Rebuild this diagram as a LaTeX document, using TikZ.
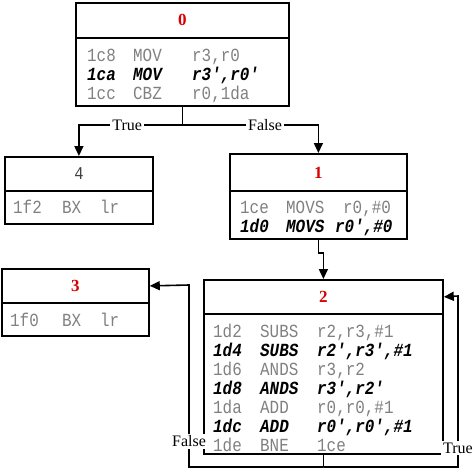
\documentclass[tikz,border=0pt]{standalone}
\usepackage{fontspec}
\setmainfont{Liberation Serif}
\setmonofont[FakeStretch=0.86]{Liberation Mono}
\usetikzlibrary{arrows.meta}

\begin{document}
\begin{tikzpicture}[
        x=1pt, y=-1pt,
        blk/.style={draw, line width=1.8pt, rectangle, inner sep=0pt, anchor=north west},
        hdr/.style={blk, font=\fontsize{17}{18}\selectfont\bfseries, text=red!85!black},
        asm/.style={anchor=base west, inner sep=0pt, font=\fontsize{18.5}{19}\selectfont\ttfamily, text=gray},
        asmb/.style={asm, font=\fontsize{18.5}{19}\selectfont\ttfamily\bfseries\itshape, text=black},
        lbl/.style={fill=white, inner sep=2pt, font=\fontsize{16}{18}\selectfont},
        wire/.style={line width=1.6pt},
        wirearr/.style={wire, -{Triangle[length=10pt,width=9pt]}}
    ]

    \useasboundingbox (0,0) rectangle (474,469);

    % ---------- 基本块 ----------
    % 块 0
    \node[hdr, minimum width=213pt, minimum height=35pt] (b0hdr) at (75,2) {0};
    \node[blk, minimum width=213pt, minimum height=68pt] (b0body) at (75,37) {};
    % 块 4
    \node[blk, minimum width=148pt, minimum height=34pt, font=\fontsize{18}{18}\selectfont\ttfamily, text=darkgray] (b4hdr) at (4,156) {4};
    \node[blk, minimum width=148pt, minimum height=33pt] (b4body) at (4,190) {};
    % 块 1
    \node[hdr, minimum width=177pt, minimum height=37pt] (b1hdr) at (229,153) {1};
    \node[blk, minimum width=177pt, minimum height=48pt] (b1body) at (229,190) {};
    % 块 3
    \node[hdr, minimum width=147pt, minimum height=34pt] (b3hdr) at (1,268) {3};
    \node[blk, minimum width=147pt, minimum height=33pt] (b3body) at (1,302) {};
    % 块 2
    \node[hdr, minimum width=239pt, minimum height=34pt] (b2hdr) at (203,279) {2};
    \node[blk, minimum width=239pt, minimum height=140pt] (b2body) at (203,313) {};

    % ---------- 指令 ----------
    \foreach \ad/\op/\ag/\st [count=\i] in {
        1c8/MOV/{r3,r0}/asm,
        1ca/MOV/{r3',r0'}/asmb,
        1cc/CBZ/{r0,1da}/asm} {
        \node[\st] (b0a\i) at (87, {61+19*(\i-1)}) {\ad};
        \node[\st] (b0o\i) at (133, {61+19*(\i-1)}) {\op};
        \node[\st] (b0g\i) at (192, {61+19*(\i-1)}) {\ag};
    }

    \node[asm] (b4a1) at (13,213) {1f2};
    \node[asm] (b4o1) at (62,213) {BX};
    \node[asm] (b4g1) at (100,213) {lr};

    \node[asm] (b1a1) at (240,213) {1ce};
    \node[asm] (b1o1) at (286,213) {MOVS};
    \node[asm] (b1g1) at (343,213) {r0,\#0};
    \node[asmb] (b1a2) at (240,232) {1d0};
    \node[asmb] (b1o2) at (286,232) {MOVS};
    \node[asmb] (b1g2) at (335,232) {r0',\#0};

    \node[asm] (b3a1) at (10,326) {1f0};
    \node[asm] (b3o1) at (62,326) {BX};
    \node[asm] (b3g1) at (100,326) {lr};

    \foreach \ad/\op/\ag/\st [count=\i] in {
        1d2/SUBS/{r2,r3,\#1}/asm,
        1d4/SUBS/{r2',r3',\#1}/asmb,
        1d6/ANDS/{r3,r2}/asm,
        1d8/ANDS/{r3',r2'}/asmb,
        1da/ADD/{r0,r0,\#1}/asm,
        1dc/ADD/{r0',r0',\#1}/asmb,
        1de/BNE/1ce/asm} {
        \node[\st] (b2a\i) at (213, {337+19.1*(\i-1)}) {\ad};
        \node[\st] (b2o\i) at (260, {337+19.1*(\i-1)}) {\op};
        \node[\st] (b2g\i) at (317, {337+19.1*(\i-1)}) {\ag};
    }

    % ---------- 控制流 ----------
    \coordinate (fork) at (b0body.south |- 0,125);
    \draw[wire] (b0body.south) -- (fork);
    \draw[wirearr] (fork) -| node[lbl, pos=0.267] {True} (b4hdr.north);
    \draw[wirearr] (fork) -| node[lbl, pos=0.304] {False} (b1hdr.north);

    \draw[wirearr] (b1body.south) -- ++(0,13) -| (b2hdr.north);

    % 回边
    \coordinate (loop) at (b2body.south |- 0,467);
    \coordinate (fbend) at (189,285);
    \coordinate (tbend) at (458,296);
    \draw[wire] (b2body.south) -- (loop);
    \draw[wirearr] (loop) -| node[lbl, pos=0.571] {False} (fbend) -- (b3hdr.east);
    \draw[wirearr] (loop) -| node[lbl, pos=0.556] {True} (tbend) -- (b2hdr.east);

\end{tikzpicture}
\end{document}
